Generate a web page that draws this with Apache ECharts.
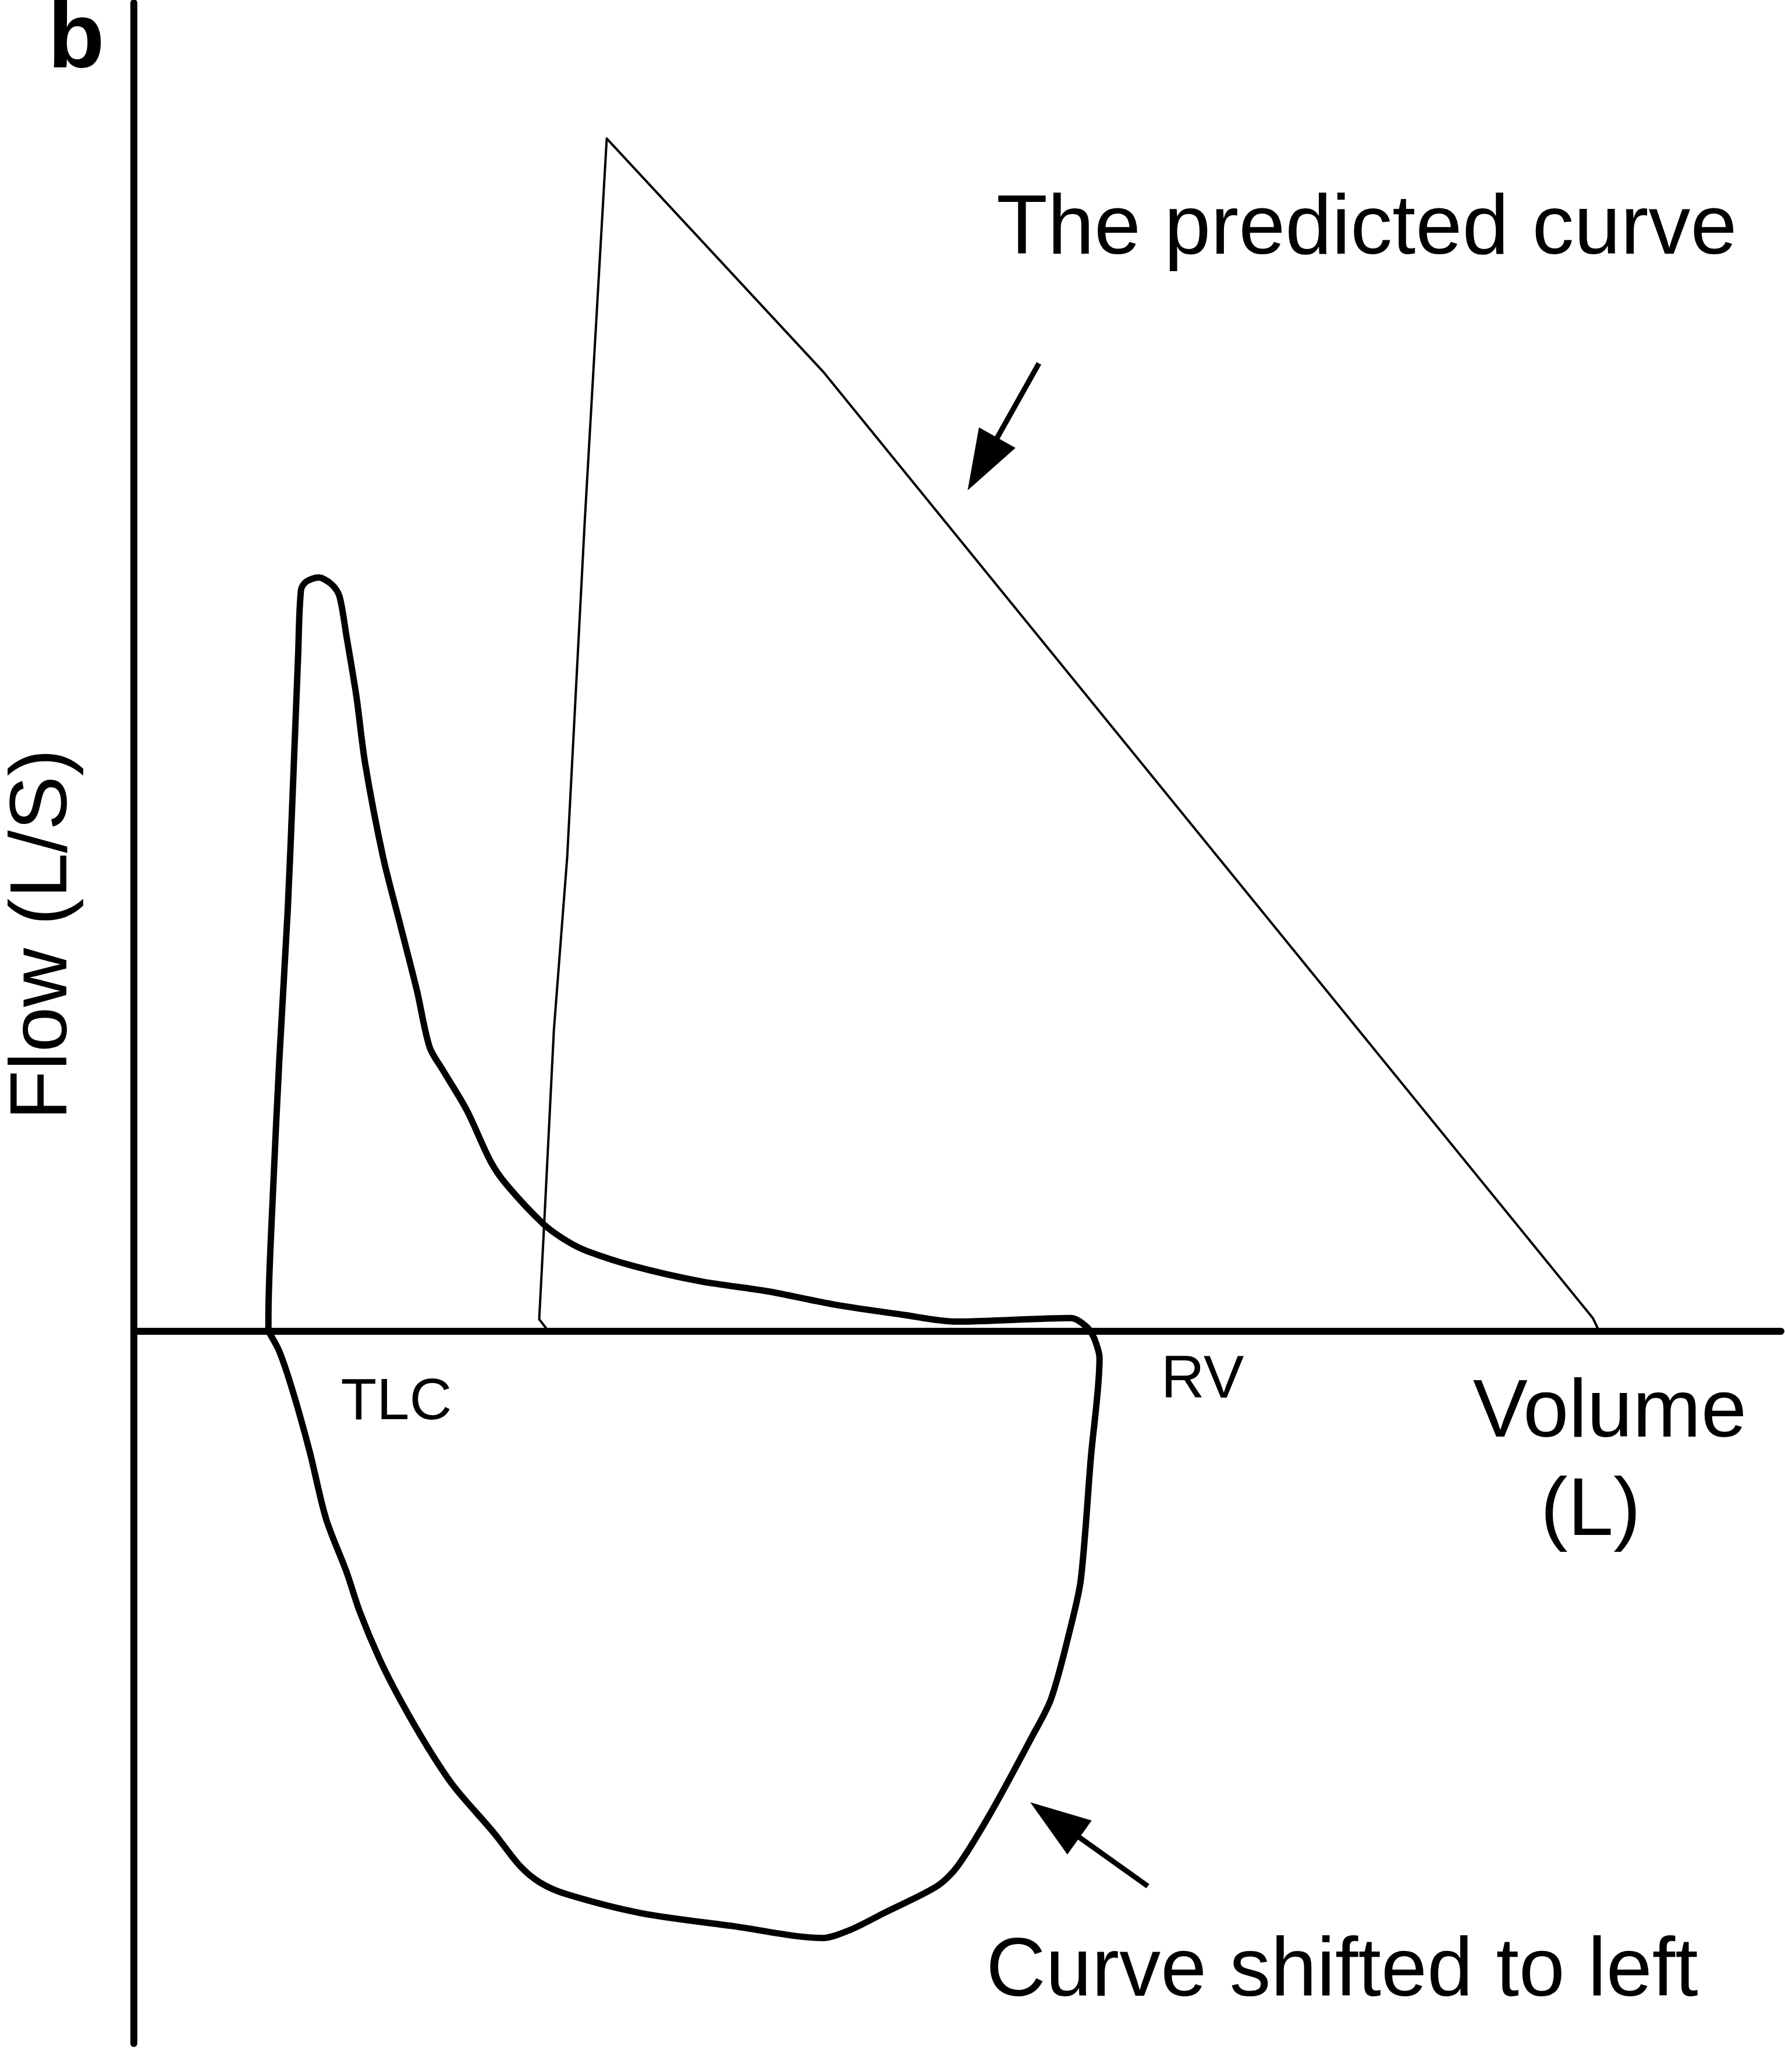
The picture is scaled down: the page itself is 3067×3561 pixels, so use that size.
<!DOCTYPE html>
<html>
<head>
<meta charset="utf-8">
<script src="https://cdn.jsdelivr.net/npm/echarts@6/dist/echarts.min.js"></script>
<style>
html,body{margin:0;padding:0;background:#fff;}
#chart{width:3067px;height:3561px;}
</style>
</head>
<body>
<div id="chart"></div>
<script>
// Axis ranges (volume units along x, flow units along y)
const xRange = [0, 10];
const yRange = [-5.36, 10];

// The predicted curve (thin line): [volume, flow]
const predictedCurve = [
  [2.518, 0], [2.461, 0.092], [2.489, 0.754], [2.550, 2.266], [2.631, 3.571],
  [2.737, 6.087], [2.871, 8.979], [4.190, 7.217], [8.858, 0.101], [8.897, 0]
];

// Measured loop shifted to left (thick line): expiration then inspiration
const shiftedExpiration = [
  [0.817, 0], [0.817, 0.101], [0.845, 1.056], [0.884, 2.064], [0.934, 3.168],
  [0.965, 4.075], [0.997, 5.079], [1.015, 5.583], [1.047, 5.644], [1.121, 5.675],
  [1.202, 5.622], [1.248, 5.535], [1.291, 5.232], [1.351, 4.781], [1.404, 4.277],
  [1.513, 3.571], [1.616, 3.067], [1.719, 2.564], [1.796, 2.138], [1.878, 1.963],
  [2.023, 1.661], [2.164, 1.284], [2.263, 1.104], [2.489, 0.806], [2.631, 0.679],
  [2.751, 0.605], [3.037, 0.491], [3.441, 0.377], [3.847, 0.302], [4.254, 0.202],
  [4.661, 0.127], [4.993, 0.074], [5.690, 0.101], [5.792, 0.026], [5.831, -0.053]
];
const shiftedInspiration = [
  [5.831, -0.053], [5.863, -0.202], [5.810, -0.955], [5.750, -1.862], [5.690, -2.213],
  [5.569, -2.765], [5.446, -3.067], [5.202, -3.624], [5.000, -4.027], [4.876, -4.176],
  [4.554, -4.378], [4.349, -4.505], [4.180, -4.566], [3.646, -4.478], [3.076, -4.378],
  [2.631, -4.238], [2.468, -4.150], [2.344, -4.023], [2.185, -3.773], [1.941, -3.422],
  [1.779, -3.120], [1.616, -2.770], [1.492, -2.467], [1.372, -2.112], [1.291, -1.810],
  [1.167, -1.411], [1.068, -0.907], [0.965, -0.451], [0.884, -0.153], [0.817, 0]
];

// Annotation arrows: [tail, arrow-head centre]
const predictedArrow = [[5.495, 7.287], [5.152, 6.529]];
const shiftedArrow = [[6.156, -4.176], [5.592, -3.677]];

// Texts
const panelLabel = 'b';
const yAxisTitle = 'Flow (L/S)';
const xAxisTitle = ['Volume', '(L)'];
const pointLabels = ['TLC', 'RV'];
const predictedLabel = 'The predicted curve';
const shiftedLabel = 'Curve shifted to left';

const FONT = '"Liberation Sans", Arial, Helvetica, sans-serif';

const chart = echarts.init(document.getElementById('chart'), null, {renderer: 'canvas'});

function arrowLine(pair) {
  return [{coord: pair[0]}, {coord: pair[1]}];
}

const option = {
  animation: false,
  backgroundColor: '#ffffff',
  grid: {left: 230, right: 7, top: 5, bottom: 49, containLabel: false},
  xAxis: {
    type: 'value', min: xRange[0], max: xRange[1],
    axisLine: {show: true, onZero: true, lineStyle: {color: '#000', width: 12}},
    axisTick: {show: false}, axisLabel: {show: false}, splitLine: {show: false}
  },
  yAxis: {
    type: 'value', min: yRange[0], max: yRange[1],
    axisLine: {show: true, onZero: false, lineStyle: {color: '#000', width: 12}},
    axisTick: {show: false}, axisLabel: {show: false}, splitLine: {show: false}
  },
  series: [
    {
      name: 'predicted', type: 'line', data: predictedCurve, showSymbol: false,
      lineStyle: {color: '#000', width: 4, join: 'round', cap: 'round'},
      markLine: {
        silent: true, symbol: ['none', 'triangle'], symbolSize: [72, 104],
        label: {show: false},
        lineStyle: {color: '#000', width: 9, type: 'solid'},
        data: [arrowLine(predictedArrow), arrowLine(shiftedArrow)]
      }
    },
    {
      name: 'expiration', type: 'line', data: shiftedExpiration, showSymbol: false, smooth: 0.3,
      lineStyle: {color: '#000', width: 11, join: 'round', cap: 'round'}
    },
    {
      name: 'inspiration', type: 'line', data: shiftedInspiration, showSymbol: false, smooth: 0.3,
      lineStyle: {color: '#000', width: 11, join: 'round', cap: 'round'}
    }
  ],
  graphic: [
    {type: 'text', x: 82, y: 72, style: {text: panelLabel, font: 'bold 160px ' + FONT, fill: '#000', align: 'left', verticalAlign: 'middle'}},
    {type: 'text', x: 75, y: 1606, rotation: Math.PI / 2, style: {text: yAxisTitle, font: '140px ' + FONT, fill: '#000', align: 'center', verticalAlign: 'middle'}},
    {type: 'text', x: 1712, y: 396, style: {text: predictedLabel, font: '144px ' + FONT, fill: '#000', align: 'left', verticalAlign: 'middle'}},
    {type: 'text', x: 2306, y: 3391, style: {text: shiftedLabel, font: '142px ' + FONT, fill: '#000', align: 'center', verticalAlign: 'middle'}},
    {type: 'text', x: 2766, y: 2430, style: {text: xAxisTitle[0], font: '141px ' + FONT, fill: '#000', align: 'center', verticalAlign: 'middle'}},
    {type: 'text', x: 2733, y: 2599, style: {text: xAxisTitle[1], font: '141px ' + FONT, fill: '#000', align: 'center', verticalAlign: 'middle'}},
    {type: 'text', x: 681, y: 2411, style: {text: pointLabels[0], font: '101px ' + FONT, fill: '#000', align: 'center', verticalAlign: 'middle'}},
    {type: 'text', x: 2066, y: 2373, style: {text: pointLabels[1], font: '104px ' + FONT, fill: '#000', align: 'center', verticalAlign: 'middle'}}
  ]
};
chart.setOption(option);
</script>
</body>
</html>
